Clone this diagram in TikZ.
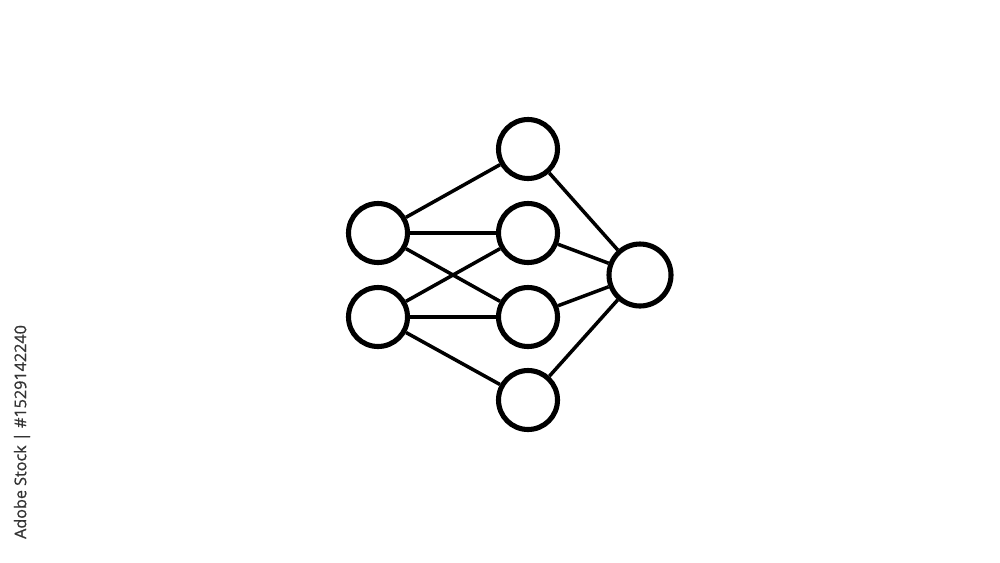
\documentclass[tikz,border=0pt]{standalone}
\usepackage{fontspec}
\newfontfamily\markfont[FakeBold=0.8]{Open Sans}
\begin{document}
\begin{tikzpicture}[
                            x=0.02cm, y=-0.02cm,
                            neuron/.style={circle, draw, line width=2.9pt, inner sep=0pt, minimum size=1.18cm},
                            link/.style={line width=2pt}
                        ]
                        \useasboundingbox (0,0) rectangle (1000,562);
                        % Blocks
                        \node [neuron] (in1) at (378,233) {};
                        \node [neuron] (in2) at (378,317) {};
                        \node [neuron] (h1) at (528,149) {};
                        \node [neuron] (h2) at (528,233) {};
                        \node [neuron] (h3) at (528,317) {};
                        \node [neuron] (h4) at (528,400) {};
                        \node [neuron, minimum size=1.24cm] (out) at (640,275) {};
                        \node [rotate=90, text=black!80, font=\markfont\fontsize{9.2}{10}\selectfont] (mark) at (22,432) {Adobe Stock | \#1529142240};

                        % Connections
                        \draw [link] (in1) -- (h1);
                        \draw [link] (in1) -- (h2);
                        \draw [link] (in1) -- (h3);
                        \draw [link] (in2) -- (h2);
                        \draw [link] (in2) -- (h3);
                        \draw [link] (in2) -- (h4);
                        \draw [link] (h1) -- (out);
                        \draw [link] (h2) -- (out);
                        \draw [link] (h3) -- (out);
                        \draw [link] (h4) -- (out);
                    \end{tikzpicture}
\end{document}
